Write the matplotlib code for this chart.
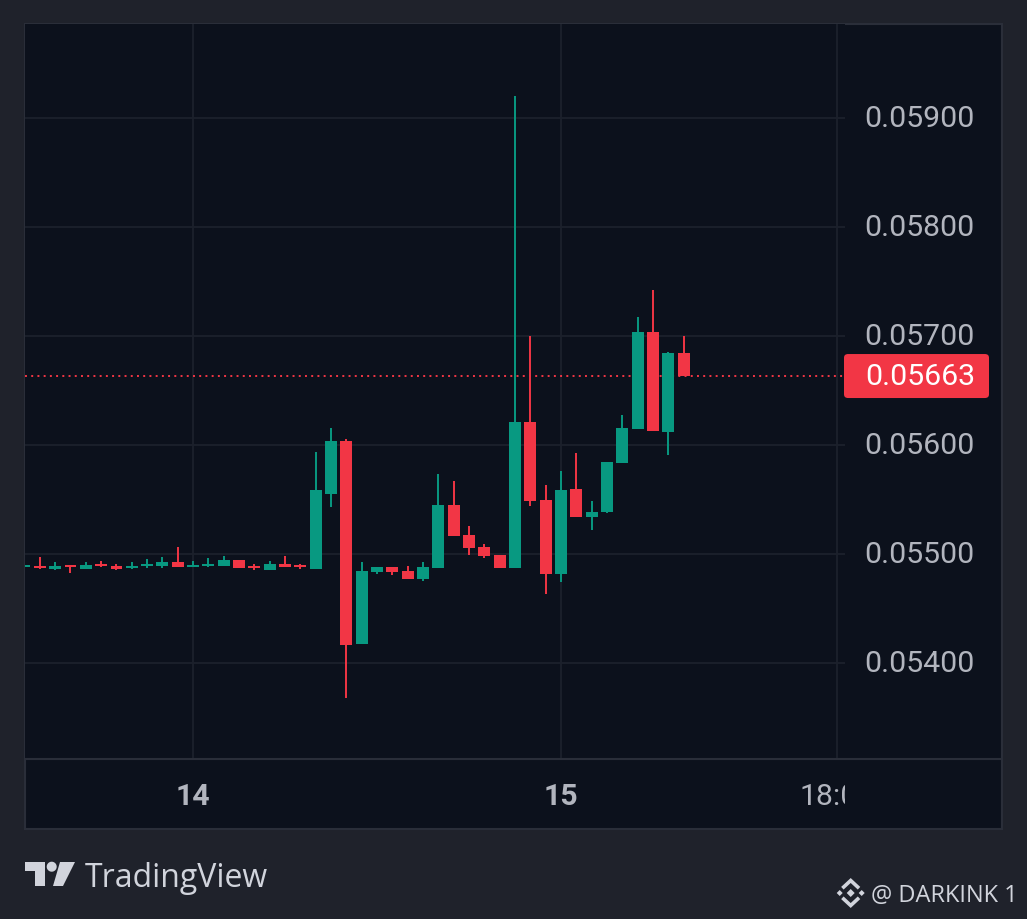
import matplotlib
matplotlib.use("Agg")
import matplotlib.pyplot as plt
import numpy as np
from matplotlib.patches import Rectangle, Polygon, FancyBboxPatch
from matplotlib.lines import Line2D
from matplotlib.transforms import Bbox, TransformedBbox
from matplotlib.ticker import FuncFormatter

# ---------------- data (hourly candles, 13th 13:00 -> 15th 08:00) ----------------
opens = [0.05488, 0.05489, 0.05486, 0.05490, 0.05486, 0.05491, 0.05489, 0.05487,
         0.05489, 0.05489, 0.05492, 0.05488, 0.05489, 0.05489, 0.05494, 0.05489,
         0.05485, 0.05491, 0.05490, 0.05486, 0.05555, 0.05603, 0.05417, 0.05483,
         0.05488, 0.05484, 0.05477, 0.05487, 0.05545, 0.05517, 0.05506, 0.05499,
         0.05487, 0.05621, 0.05549, 0.05481, 0.05559, 0.05534, 0.05538, 0.05583,
         0.05614, 0.05703, 0.05612, 0.05684]
highs = [0.05490, 0.05497, 0.05492, 0.05490, 0.05492, 0.05493, 0.05491, 0.05492,
         0.05495, 0.05497, 0.05506, 0.05493, 0.05496, 0.05498, 0.05494, 0.05491,
         0.05493, 0.05498, 0.05491, 0.05593, 0.05615, 0.05605, 0.05492, 0.05488,
         0.05488, 0.05489, 0.05492, 0.05573, 0.05567, 0.05525, 0.05509, 0.05499,
         0.05920, 0.05700, 0.05563, 0.05576, 0.05592, 0.05548, 0.05584, 0.05627,
         0.05717, 0.05742, 0.05685, 0.05700]
lows = [0.05488, 0.05486, 0.05485, 0.05482, 0.05486, 0.05488, 0.05485, 0.05486,
        0.05487, 0.05487, 0.05488, 0.05488, 0.05488, 0.05489, 0.05487, 0.05485,
        0.05485, 0.05488, 0.05486, 0.05486, 0.05543, 0.05368, 0.05417, 0.05481,
        0.05480, 0.05477, 0.05475, 0.05487, 0.05516, 0.05499, 0.05496, 0.05487,
        0.05487, 0.05544, 0.05463, 0.05474, 0.05534, 0.05522, 0.05537, 0.05583,
        0.05614, 0.05613, 0.05591, 0.05663]
closes = [0.05490, 0.05487, 0.05489, 0.05488, 0.05490, 0.05489, 0.05486, 0.05489,
          0.05491, 0.05492, 0.05488, 0.05490, 0.05491, 0.05494, 0.05487, 0.05487,
          0.05491, 0.05488, 0.05488, 0.05558, 0.05603, 0.05416, 0.05484, 0.05488,
          0.05483, 0.05477, 0.05488, 0.05545, 0.05516, 0.05505, 0.05498, 0.05487,
          0.05621, 0.05548, 0.05481, 0.05558, 0.05534, 0.05538, 0.05584, 0.05615,
          0.05703, 0.05613, 0.05684, 0.05663]

time_tick_pos = [11, 35, 53]          # 14th 00:00, 15th 00:00, 15th 18:00
time_tick_labels = ["14", "15", "18:00"]
price_ticks = [0.054, 0.055, 0.056, 0.057, 0.058, 0.059]

# ---------------- style ----------------
OUTER = "#1f222b"
PANE = "#0c111c"
GRID = "#1c212c"
BORDER = "#2a2e39"
GREEN = "#089981"
RED = "#f23645"
TXT = "#b2b5be"
FS = 21.8

W, H = 1027, 920
def fx(px): return px / W
def fy(py): return 1 - py / H

fig = plt.figure(figsize=(W / 100, H / 100), dpi=100, facecolor=OUTER)

# chart frame (behind the axes)
fig.patches.append(Rectangle((fx(25), fy(830)), (1002 - 25) / W, (830 - 25) / H,
                             transform=fig.transFigure, fc=PANE, ec=BORDER, lw=1.5, zorder=-5))

ax = fig.add_axes([fx(25), fy(760), 820 / W, 735 / H])
ax.set_zorder(1)
ax.set_facecolor(PANE)
for s in ax.spines.values():
    s.set_visible(False)

idx = np.arange(len(opens))
o = np.array(opens); h = np.array(highs); l = np.array(lows); c = np.array(closes)
cols = [GREEN if cc >= oo else RED for oo, cc in zip(o, c)]

ax.vlines(idx, l, h, colors=cols, lw=1.4, zorder=3)
ax.bar(idx, c - o, bottom=o, width=0.78, color=cols, linewidth=0, zorder=4)

ax.set_xlim(0.033, 53.52)
ax.set_ylim(0.0531165, 0.0598596)

ax.set_xticks(time_tick_pos)
ax.set_xticklabels(time_tick_labels)
ax.set_yticks(price_ticks)
ax.yaxis.set_major_formatter(FuncFormatter(lambda v, p: f"{v:.5f}"))
ax.yaxis.tick_right()
ax.tick_params(axis="y", length=0, pad=14.2, labelsize=FS, labelcolor=TXT)
ax.tick_params(axis="x", length=0, pad=16.5, labelsize=FS, labelcolor=TXT)
for lbl in ax.get_yticklabels():
    lbl.set_family("Roboto")
    lbl.set_verticalalignment("center")
clip_bb = TransformedBbox(Bbox.from_extents(fx(25), 0, fx(845), 1), fig.transFigure)
for lbl in ax.get_xticklabels():
    lbl.set_family("Roboto")
    if ":" not in lbl.get_text():
        lbl.set_fontweight("bold")
    lbl.set_clip_on(True)
    lbl.set_clip_box(clip_bb)

ax.grid(True, color=GRID, lw=1.3, zorder=0)
ax.set_axisbelow(True)

# last price line
last = closes[-1]
ax.axhline(last, color=RED, lw=1.4, ls=(0, (1, 2.2)), zorder=2)

# separator between pane and time scale
fig.add_artist(Line2D([fx(25), fx(1002)], [fy(760), fy(760)], color=BORDER, lw=1.5,
                      transform=fig.transFigure, zorder=2))

# last price label
y_disp = ax.transData.transform((0, last))[1]
fig.patches.append(FancyBboxPatch((fx(844), (y_disp - 22) / H), 145 / W, 44 / H,
                                  boxstyle="round,pad=0,rounding_size=0.004",
                                  transform=fig.transFigure, fc=RED, ec="none", zorder=5))
fig.text(fx(865), y_disp / H, f"{last:.5f}", color="white", fontsize=FS, family="Roboto",
         va="center", ha="left", zorder=6)

# TradingView logo + text
LOGO = "#d1d4dc"
def pts(lst):
    return [(fx(a), fy(b)) for a, b in lst]
fig.patches.append(Polygon(pts([(25, 863), (45, 863), (45, 887), (35, 887), (35, 872), (25, 872)]),
                           closed=True, transform=fig.transFigure, fc=LOGO, ec="none"))
fig.patches.append(Polygon(pts([(60, 863), (75, 863), (63, 887), (53, 887)]),
                           closed=True, transform=fig.transFigure, fc=LOGO, ec="none"))
fig.patches.append(Polygon(pts([(51.7 + 5 * np.cos(t), 867.7 + 5 * np.sin(t)) for t in np.linspace(0, 2 * np.pi, 40)]),
                           closed=True, transform=fig.transFigure, fc=LOGO, ec="none"))
fig.text(fx(85), fy(887), "TradingView", fontsize=23, color=LOGO, family="Open Sans",
         va="baseline", ha="left")

# Binance-style mark + handle
cx, cy = 850.7, 894
def diamond(x0, y0, r):
    return pts([(x0, y0 - r), (x0 + r, y0), (x0, y0 + r), (x0 - r, y0)])
for (dx, r) in [(-11, 3), (11, 3), (0, 4)]:
    fig.patches.append(Polygon(diamond(cx + dx, cy, r), closed=True, transform=fig.transFigure,
                               fc=LOGO, ec="none"))
for sgn in (-1, 1):
    xs = [cx - 7, cx, cx + 7]
    ys = [cy + sgn * 6, cy + sgn * 12.5, cy + sgn * 6]
    fig.add_artist(Line2D([fx(v) for v in xs], [fy(v) for v in ys], color=LOGO, lw=2.6,
                          solid_joinstyle="miter", transform=fig.transFigure))
fig.text(fx(871), fy(902.5), "@ DARKINK 1", fontsize=17, color=LOGO, family="Open Sans",
         va="baseline", ha="left")

fig.savefig("out.png", dpi=100, facecolor=OUTER)
